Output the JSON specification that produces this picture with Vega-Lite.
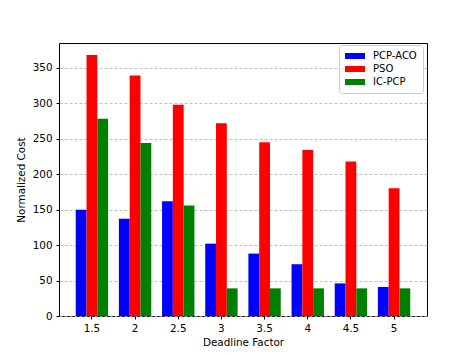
{
  "$schema": "https://vega.github.io/schema/vega-lite/v6.json",
  "width": 368,
  "height": 273,
  "autosize": "none",
  "padding": {"left": 59, "top": 43, "right": 47, "bottom": 39},
  "background": "white",
  "config": {
    "font": "DejaVu Sans",
    "view": {"stroke": "black", "strokeWidth": 1},
    "axis": {
      "labelFont": "DejaVu Sans", "titleFont": "DejaVu Sans",
      "labelFontSize": 10.4, "titleFontSize": 10.4, "titleFontWeight": "normal",
      "labelColor": "black", "titleColor": "black",
      "tickColor": "black", "tickSize": 3, "domainColor": "black"
    }
  },
  "data": {"values": [
    {"factor": "1.5", "method": "PCP-ACO", "cost": 150},
    {"factor": "1.5", "method": "PSO", "cost": 368},
    {"factor": "1.5", "method": "IC-PCP", "cost": 278},
    {"factor": "2", "method": "PCP-ACO", "cost": 137},
    {"factor": "2", "method": "PSO", "cost": 339},
    {"factor": "2", "method": "IC-PCP", "cost": 244},
    {"factor": "2.5", "method": "PCP-ACO", "cost": 162},
    {"factor": "2.5", "method": "PSO", "cost": 298},
    {"factor": "2.5", "method": "IC-PCP", "cost": 156},
    {"factor": "3", "method": "PCP-ACO", "cost": 102},
    {"factor": "3", "method": "PSO", "cost": 272},
    {"factor": "3", "method": "IC-PCP", "cost": 39},
    {"factor": "3.5", "method": "PCP-ACO", "cost": 88},
    {"factor": "3.5", "method": "PSO", "cost": 245},
    {"factor": "3.5", "method": "IC-PCP", "cost": 39},
    {"factor": "4", "method": "PCP-ACO", "cost": 73},
    {"factor": "4", "method": "PSO", "cost": 234},
    {"factor": "4", "method": "IC-PCP", "cost": 39},
    {"factor": "4.5", "method": "PCP-ACO", "cost": 46},
    {"factor": "4.5", "method": "PSO", "cost": 218},
    {"factor": "4.5", "method": "IC-PCP", "cost": 39},
    {"factor": "5", "method": "PCP-ACO", "cost": 41},
    {"factor": "5", "method": "PSO", "cost": 180},
    {"factor": "5", "method": "IC-PCP", "cost": 39}
  ]},
  "mark": {"type": "bar"},
  "encoding": {
    "x": {
      "field": "factor", "type": "nominal",
      "sort": ["1.5", "2", "2.5", "3", "3.5", "4", "4.5", "5"],
      "scale": {"paddingInner": 0.25, "paddingOuter": 0.3875},
      "axis": {"title": "Deadline Factor", "labelAngle": 0, "labelPadding": 4, "titlePadding": 4, "domain": false}
    },
    "xOffset": {
      "field": "method", "type": "nominal",
      "sort": ["PCP-ACO", "PSO", "IC-PCP"],
      "scale": {"paddingInner": 0, "paddingOuter": 0}
    },
    "y": {
      "field": "cost", "type": "quantitative",
      "scale": {"domain": [0, 385], "nice": false},
      "axis": {
        "title": "Normalized Cost", "values": [0, 50, 100, 150, 200, 250, 300, 350],
        "grid": true, "gridColor": "#b0b0b0", "gridDash": [3, 2], "gridWidth": 0.8,
        "labelPadding": 4, "titlePadding": 6, "domain": false
      }
    },
    "color": {
      "field": "method", "type": "nominal",
      "sort": ["PCP-ACO", "PSO", "IC-PCP"],
      "scale": {"domain": ["PCP-ACO", "PSO", "IC-PCP"], "range": ["#0000ff", "#ff0000", "#008000"]},
      "legend": {
        "title": null, "orient": "none", "legendX": 280, "legendY": 2,
        "symbolType": "M-2,-0.6L2,-0.6L2,0.6L-2,0.6Z", "symbolSize": 100,
        "symbolStrokeWidth": 0, "symbolOffset": 5, "labelFontSize": 10, "labelColor": "black",
        "labelOffset": 13, "rowPadding": 3,
        "strokeColor": "#cccccc", "fillColor": "white", "cornerRadius": 3, "padding": 6
      }
    }
  }
}
